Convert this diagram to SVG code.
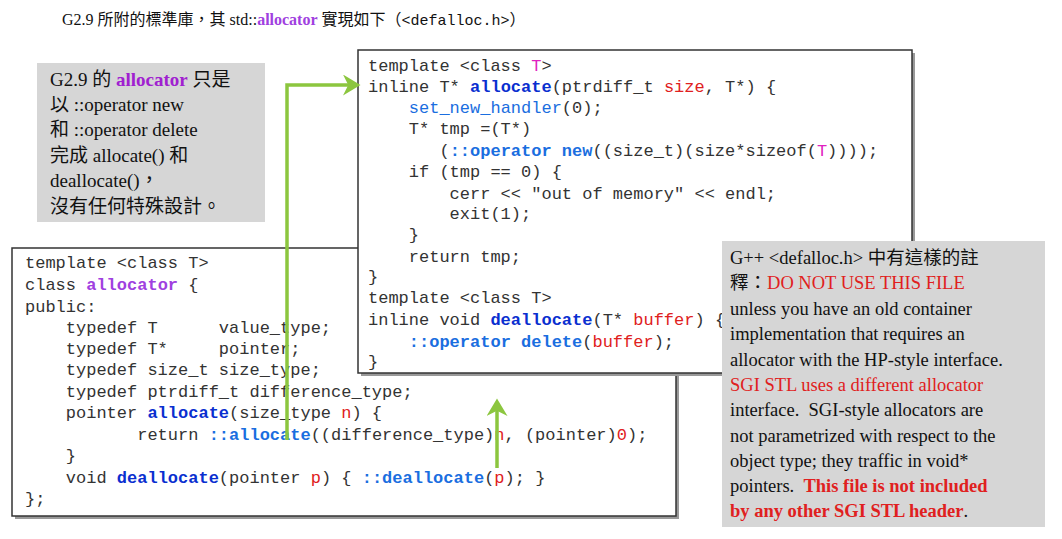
<svg xmlns="http://www.w3.org/2000/svg" width="1062" height="539" viewBox="0 0 1062 539">
<style>
.s{font-family:"Liberation Serif","Noto Sans CJK TC",serif;fill:#111}
.m{font-family:"Liberation Mono",monospace;font-size:17px;fill:#333}
.k{fill:#0a2fd0;font-weight:bold}
.l{fill:#1a6ee0}
.lb{fill:#1a6ee0;font-weight:bold}
.r{fill:#e02020}
.pu{fill:#a040e0;font-weight:bold}
.mg{fill:#e020c0}
.box{fill:#fff;stroke:#333;stroke-width:1.5}
.sh{fill:#999}
.gray{fill:#d6d6d6}
.arr{fill:none;stroke:#8cc63f;stroke-width:3.5}
</style>
<defs>
<marker id="ah" markerWidth="6" markerHeight="6" refX="4" refY="3" orient="auto" markerUnits="strokeWidth"><path d="M0,0 L5,3 L0,6 L1.5,3 Z" fill="#8cc63f"/></marker>
</defs>
<rect width="1062" height="539" fill="#fff"/>
<text class="s" x="62" y="25" font-size="16">G2.9 所附的標準庫，其 std::<tspan class="pu" fill="#a040e0">allocator</tspan> 實現如下（<tspan font-family="Liberation Mono,monospace" font-size="15">&lt;defalloc.h&gt;</tspan>）</text>

<g id="note-left">
<rect class="gray" x="37" y="63" width="228" height="159"/>
<g class="s" font-size="19">
<text x="50" y="86">G2.9 的 <tspan font-weight="bold" fill="#a020d0">allocator</tspan> 只是</text>
<text x="50" y="111">以 ::operator new</text>
<text x="50" y="136">和 ::operator delete</text>
<text x="50" y="162">完成 allocate() 和</text>
<text x="50" y="187">deallocate()，</text>
<text x="50" y="213">沒有任何特殊設計。</text>
</g>
</g>

<g id="class-allocator">
<rect class="sh" x="15" y="251" width="664" height="268"/>
<rect class="box" x="12" y="248" width="664" height="268"/>
<g class="m">
<text x="25" y="268">template &lt;class T&gt;</text>
<text x="25" y="290">class <tspan class="pu">allocator</tspan> {</text>
<text x="25" y="312">public:</text>
<text x="25" y="333" xml:space="preserve">    typedef T      value_type;</text>
<text x="25" y="354" xml:space="preserve">    typedef T*     pointer;</text>
<text x="25" y="375" xml:space="preserve">    typedef size_t size_type;</text>
<text x="25" y="397" xml:space="preserve">    typedef ptrdiff_t difference_type;</text>
<text x="25" y="418" xml:space="preserve">    pointer <tspan class="k">allocate</tspan>(size_type <tspan class="r">n</tspan>) {</text>
<text x="25" y="440" xml:space="preserve">           return <tspan class="lb">::allocate</tspan>((difference_type)<tspan class="r">n</tspan>, (pointer)<tspan class="r">0</tspan>);</text>
<text x="25" y="461" xml:space="preserve">    }</text>
<text x="25" y="483" xml:space="preserve">    void <tspan class="k">deallocate</tspan>(pointer <tspan class="r">p</tspan>) { <tspan class="lb">::deallocate</tspan>(<tspan class="r">p</tspan>); }</text>
<text x="25" y="504">};</text>
</g>
</g>

<g id="global-funcs">
<rect class="sh" x="361" y="53" width="554" height="323"/>
<rect class="box" x="358" y="50" width="554" height="323"/>
<g class="m">
<text x="368" y="71">template &lt;class <tspan class="mg">T</tspan>&gt;</text>
<text x="368" y="92">inline T* <tspan class="k">allocate</tspan>(ptrdiff_t <tspan class="r">size</tspan>, T*) {</text>
<text x="368" y="113" xml:space="preserve">    <tspan class="l">set_new_handler</tspan>(0);</text>
<text x="368" y="134" xml:space="preserve">    T* tmp =(T*)</text>
<text x="368" y="156" xml:space="preserve">       (<tspan class="lb">::operator new</tspan>((size_t)(size*sizeof(<tspan class="mg">T</tspan>))));</text>
<text x="368" y="177" xml:space="preserve">    if (tmp == 0) {</text>
<text x="368" y="199" xml:space="preserve">        cerr &lt;&lt; "out of memory" &lt;&lt; endl;</text>
<text x="368" y="219" xml:space="preserve">        exit(1);</text>
<text x="368" y="240" xml:space="preserve">    }</text>
<text x="368" y="262" xml:space="preserve">    return tmp;</text>
<text x="368" y="282">}</text>
<text x="368" y="303">template &lt;class T&gt;</text>
<text x="368" y="325">inline void <tspan class="k">deallocate</tspan>(T* <tspan class="r">buffer</tspan>) {</text>
<text x="368" y="347" xml:space="preserve">    <tspan class="lb">::operator delete</tspan>(<tspan class="r">buffer</tspan>);</text>
<text x="368" y="367">}</text>
</g>
</g>

<g id="note-right">
<rect class="gray" x="722" y="241" width="323" height="286"/>
<g class="s" font-size="18.5">
<text x="730" y="264">G++ &lt;defalloc.h&gt; 中有這樣的註</text>
<text x="730" y="289">釋：<tspan fill="#e02020">DO NOT USE THIS FILE</tspan></text>
<text x="730" y="315">unless you have an old container</text>
<text x="730" y="340">implementation that requires an</text>
<text x="730" y="366">allocator with the HP-style interface.</text>
<text x="730" y="391" fill="#e02020">SGI STL uses a different allocator</text>
<text x="730" y="416" xml:space="preserve">interface.  SGI-style allocators are</text>
<text x="730" y="442">not parametrized with respect to the</text>
<text x="730" y="467">object type; they traffic in void*</text>
<text x="730" y="492" xml:space="preserve">pointers.  <tspan fill="#e02020" font-weight="bold">This file is not included</tspan></text>
<text x="730" y="517"><tspan fill="#e02020" font-weight="bold">by any other SGI STL header</tspan>.</text>
</g>
</g>

<g id="connectors">
<path class="arr" d="M287,440 V85 H357" marker-end="url(#ah)"/>
<path class="arr" d="M497,468 V402" marker-end="url(#ah)"/>
</g>
</svg>
